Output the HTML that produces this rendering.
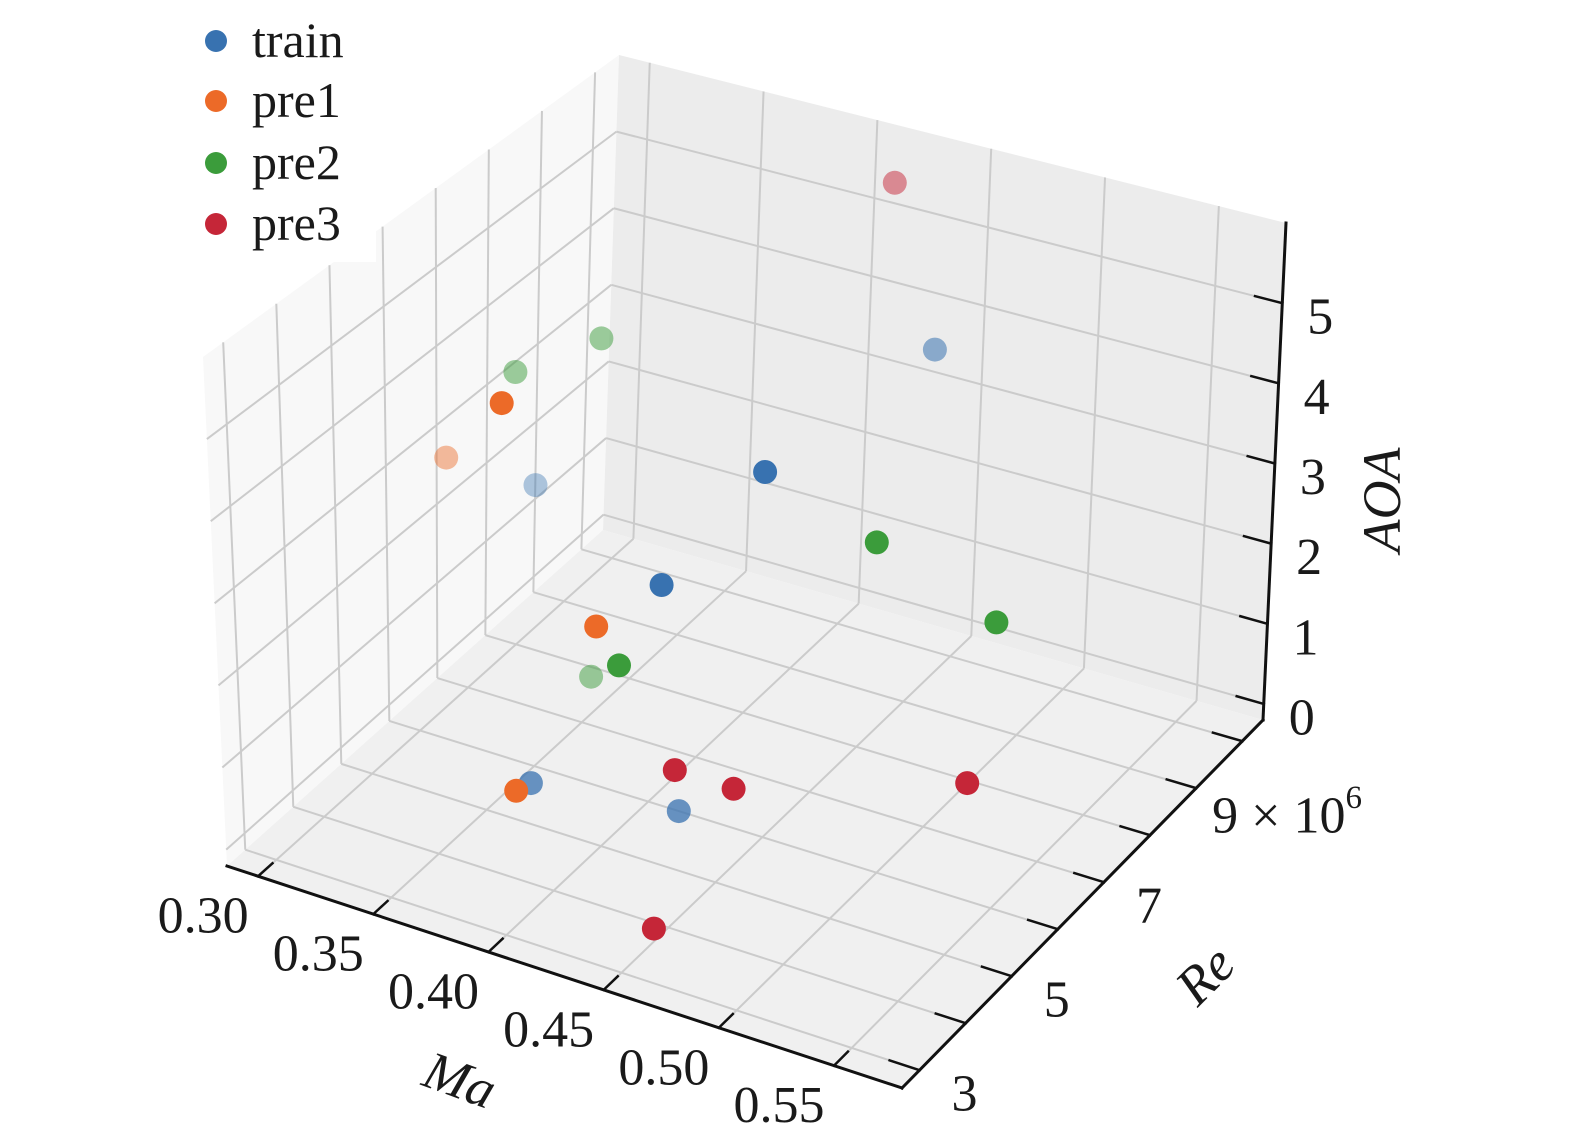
<!DOCTYPE html>
<html>
<head>
<meta charset="utf-8">
<style>
  html,body{margin:0;padding:0;background:#fff;}
  svg{display:block;}
  text{font-family:"Liberation Serif","DejaVu Serif",serif;fill:#1a1a1a;}
</style>
</head>
<body>
<svg id="chart" width="1575" height="1142" viewBox="0 0 1575 1142" xmlns="http://www.w3.org/2000/svg">
  <g id="panes"></g>
  <g id="grid"></g>
  <g id="axes"></g>
  <g id="points"></g>
  <g id="legend">
    <rect x="0" y="0" width="376" height="262" fill="#ffffff"></rect>
    <g>
      <circle cx="216" cy="41" r="11" fill="#3872b0"></circle>
      <text x="252" y="57" font-size="50">train</text>
    </g>
    <g>
      <circle cx="216" cy="101" r="11" fill="#ec6a28"></circle>
      <text x="252" y="117" font-size="50">pre1</text>
    </g>
    <g>
      <circle cx="216" cy="163" r="11" fill="#3b9c3b"></circle>
      <text x="252" y="179" font-size="50">pre2</text>
    </g>
    <g>
      <circle cx="216" cy="224" r="11" fill="#c52638"></circle>
      <text x="252" y="240" font-size="50">pre3</text>
    </g>
  </g>
</svg>
<script>
// ---- data (Ma, Re in 1e6, AOA) ----
const trainMa  = [0.449, 0.410, 0.374, 0.325, 0.374, 0.432];
const trainRe  = [9.43, 7.84, 7.44, 7.15, 4.73, 5.04];
const trainAoa = [4.0, 3.0, 1.5, 2.5, 0.5, 0.5];

const pre1Ma  = [0.329, 0.317, 0.368, 0.372];
const pre1Re  = [6.30, 5.75, 6.38, 4.52];
const pre1Aoa = [4.0, 3.5, 1.5, 0.5];

const pre2Ma  = [0.367, 0.337, 0.444, 0.485, 0.375, 0.370];
const pre2Re  = [6.53, 6.21, 8.57, 9.17, 6.52, 6.18];
const pre2Aoa = [5.0, 4.5, 2.0, 1.0, 1.0, 1.0];

const pre3Ma  = [0.417, 0.450, 0.402, 0.428, 0.504];
const pre3Re  = [10.0, 3.63, 6.40, 6.39, 7.68];
const pre3Aoa = [5.57, 0.0, 0.0, 0.0, 0.0];

// depth-shading opacity per point (style)
const trainShade = [0.55, 1, 1, 0.4, 0.75, 0.75];
const pre1Shade  = [1, 0.45, 1, 1];
const pre2Shade  = [0.5, 0.5, 1, 1, 1, 0.5];
const pre3Shade  = [0.5, 1, 1, 1, 1];

const maTicks  = [0.30, 0.35, 0.40, 0.45, 0.50, 0.55];
const maTickLabels = ["0.30","0.35","0.40","0.45","0.50","0.55"];
const reTicks  = [3, 4, 5, 6, 7, 8, 9, 10];
const reLabelTicks = [3, 5, 7, 9];
const reTickLabels = ["3","5","7","9 × 10"];
const aoaTicks = [0, 1, 2, 3, 4, 5];
const aoaTickLabels = ["0","1","2","3","4","5"];

// ---- axis limits and projection ----
const MA_MIN = 0.2865, MA_MAX = 0.5795;
const RE_MIN = 2.62, RE_MAX = 10.45;
const AOA_MIN = -0.2, AOA_MAX = 6.0;
const C = {
  c000:[227,866], c100:[902,1088], c110:[1263,720], c010:[603,530],
  c001:[203,357], c101:[902,560],  c111:[1286,223], c011:[619,55]
};
function project(ma, re, aoa){
  const a = (ma - MA_MIN)/(MA_MAX - MA_MIN);
  const b = (re - RE_MIN)/(RE_MAX - RE_MIN);
  const z = (aoa - AOA_MIN)/(AOA_MAX - AOA_MIN);
  const out = [0,0];
  for (let k=0;k<2;k++){
    const bot = C.c000[k]*(1-a)*(1-b) + C.c100[k]*a*(1-b) + C.c110[k]*a*b + C.c010[k]*(1-a)*b;
    const top = C.c001[k]*(1-a)*(1-b) + C.c101[k]*a*(1-b) + C.c111[k]*a*b + C.c011[k]*(1-a)*b;
    out[k] = bot + (top-bot)*z;
  }
  return out;
}
const NS = "http://www.w3.org/2000/svg";
function mk(tag, attrs, parent){
  const e = document.createElementNS(NS, tag);
  for (const k in attrs) e.setAttribute(k, attrs[k]);
  parent.appendChild(e);
  return e;
}
function pts(list){ return list.map(p=>p[0].toFixed(1)+","+p[1].toFixed(1)).join(" "); }

const panes = document.getElementById('panes');
const grid = document.getElementById('grid');
const axes = document.getElementById('axes');
const points = document.getElementById('points');

let el;
el = mk('polygon', {points: pts([project(MA_MIN,RE_MIN,AOA_MIN),project(MA_MIN,RE_MAX,AOA_MIN),project(MA_MIN,RE_MAX,AOA_MAX),project(MA_MIN,RE_MIN,AOA_MAX)]), fill:'#f8f8f8'}, panes);


el = mk('polygon', {points: pts([project(MA_MIN,RE_MAX,AOA_MIN),project(MA_MAX,RE_MAX,AOA_MIN),project(MA_MAX,RE_MAX,AOA_MAX),project(MA_MIN,RE_MAX,AOA_MAX)]), fill:'#ececec'}, panes);


el = mk('polygon', {points: pts([project(MA_MIN,RE_MIN,AOA_MIN),project(MA_MAX,RE_MIN,AOA_MIN),project(MA_MAX,RE_MAX,AOA_MIN),project(MA_MIN,RE_MAX,AOA_MIN)]), fill:'#f0f0f0'}, panes);



function gline(p, q, name){
  const l = mk('line', {x1:p[0], y1:p[1], x2:q[0], y2:q[1], stroke:'#cbcbcb', 'stroke-width':2}, grid);
  
  
}
maTicks.forEach(m => gline(project(m,RE_MIN,AOA_MIN), project(m,RE_MAX,AOA_MIN), 'floor-grid-ma'));
reTicks.forEach(r => gline(project(MA_MIN,r,AOA_MIN), project(MA_MAX,r,AOA_MIN), 'floor-grid-re'));
maTicks.forEach(m => gline(project(m,RE_MAX,AOA_MIN), project(m,RE_MAX,AOA_MAX), 'back-grid-ma'));
aoaTicks.forEach(t => gline(project(MA_MIN,RE_MAX,t), project(MA_MAX,RE_MAX,t), 'back-grid-aoa'));
reTicks.forEach(r => gline(project(MA_MIN,r,AOA_MIN), project(MA_MIN,r,AOA_MAX), 'left-grid-re'));
aoaTicks.forEach(t => gline(project(MA_MIN,RE_MIN,t), project(MA_MIN,RE_MAX,t), 'left-grid-aoa'));

function aline(p, q, name, w){
  const l = mk('line', {x1:p[0], y1:p[1], x2:q[0], y2:q[1], stroke:'#111', 'stroke-width':w||3, 'stroke-linecap':'square'}, axes);
  
  
}
aline(project(MA_MIN,RE_MIN,AOA_MIN), project(MA_MAX,RE_MIN,AOA_MIN), 'ma-axis-line');
aline(project(MA_MAX,RE_MIN,AOA_MIN), project(MA_MAX,RE_MAX,AOA_MIN), 're-axis-line');
aline(project(MA_MAX,RE_MAX,AOA_MIN), project(MA_MAX,RE_MAX,AOA_MAX), 'aoa-axis-line');

function txt(x, y, s, size, name, extra){
  const t = mk('text', Object.assign({x:x, y:y, 'font-size':size, 'text-anchor':'middle', 'dominant-baseline':'central'}, extra||{}), axes);
  t.textContent = s;
  
  
  return t;
}
maTicks.forEach((m,i) => {
  const p = project(m,RE_MIN,AOA_MIN);
  const q = project(m,RE_MIN+0.3,AOA_MIN);
  aline(p, q, 'ma-tick', 2.5);
  txt(p[0]-55, p[1]+40, maTickLabels[i], 52, 'ma-tick-label');
});
reTicks.forEach(r => {
  const p = project(MA_MAX,r,AOA_MIN);
  const q = project(MA_MAX-0.013,r,AOA_MIN);
  aline(p, q, 're-tick', 2.5);
});
reLabelTicks.forEach((r,i) => {
  const p = project(MA_MAX,r,AOA_MIN);
  if (i === reLabelTicks.length-1){
    const t = txt(p[0]+38, p[1]+28, reTickLabels[i], 52, 're-tick-label', {'text-anchor':'start'});
    const sup = document.createElementNS(NS,'tspan');
    sup.setAttribute('font-size','33');
    sup.setAttribute('dy','-18');
    sup.textContent = '6';
    t.appendChild(sup);
    t.setAttribute('x', p[0]+16);
  } else {
    txt(p[0]+45, p[1]+24, reTickLabels[i], 52, 're-tick-label');
  }
});
aoaTicks.forEach((t,i) => {
  const p = project(MA_MAX,RE_MAX,t);
  const q = project(MA_MAX-0.012,RE_MAX,t);
  aline(p, q, 'aoa-tick', 2.5);
  txt(p[0]+38, p[1]+14, aoaTickLabels[i], 52, 'aoa-tick-label');
});
txt(460, 1080, 'Ma', 54, 'ma-axis-title', {'font-style':'italic', transform:'rotate(20 460 1080)'});
txt(1205, 975, 'Re', 54, 're-axis-title', {'font-style':'italic', transform:'rotate(-45 1205 975)'});
txt(1382, 500, 'AOA', 54, 'aoa-axis-title', {'font-style':'italic', transform:'rotate(-90 1382 500)'});

function drawSeries(mas, res, aoas, shades, color, name){
  const g = mk('g', {}, points);
  
  
  mas.forEach((m,i) => {
    const p = project(m, res[i], aoas[i]);
    const c = mk('circle', {cx:(p[0]+3).toFixed(1), cy:(p[1]+1).toFixed(1), r:12, fill:color, 'fill-opacity':shades[i]}, g);
    
    
  });
}
drawSeries(trainMa, trainRe, trainAoa, trainShade, '#3872b0', 'train');
drawSeries(pre1Ma, pre1Re, pre1Aoa, pre1Shade, '#ec6a28', 'pre1');
drawSeries(pre2Ma, pre2Re, pre2Aoa, pre2Shade, '#3b9c3b', 'pre2');
drawSeries(pre3Ma, pre3Re, pre3Aoa, pre3Shade, '#c52638', 'pre3');
</script>
</body>
</html>
